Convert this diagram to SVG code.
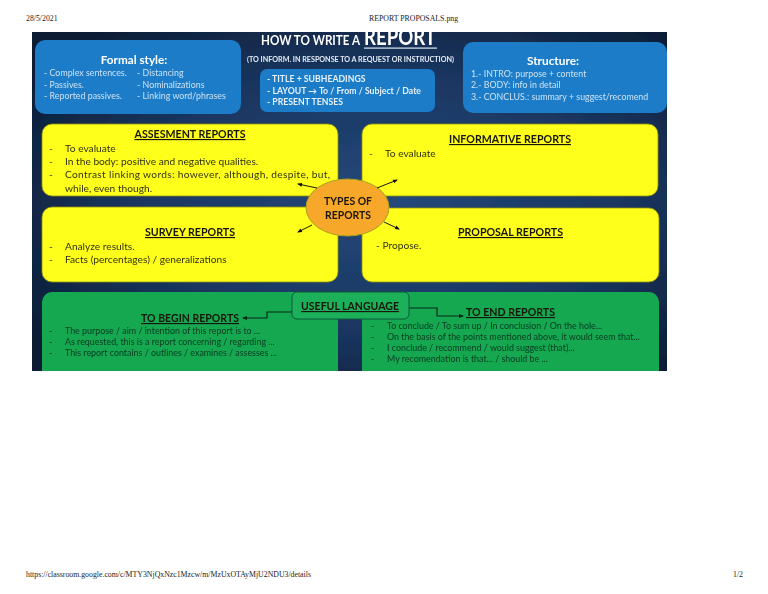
<svg xmlns="http://www.w3.org/2000/svg" width="768" height="594" viewBox="0 0 768 594">
<style>
text{font-family:Lato,"Open Sans",sans-serif}
text.pg{font-family:"Liberation Serif",serif;font-size:7.8px;fill:#222}
.blue{fill:#1a7cc8}
.yel{fill:#ffff1e;stroke:#8f8f10;stroke-width:.8}
.grn{fill:#14a851}
.hw{font-weight:700;fill:#fff}
.lb{font-size:8.8px;fill:#cfe2f3;letter-spacing:.02px}
.bd{font-size:8.7px;fill:#e6f0f9;font-weight:700}
.h{font-size:11.5px;font-weight:700;fill:#16160a;text-decoration:underline;text-anchor:middle}
.t{font-size:10.2px;fill:#33330f}
.g{font-size:8.9px;fill:#083a20}
.c{fill:none;stroke:#1a1a08;stroke-width:1}
.cw{fill:none;stroke:#06281a;stroke-width:1.2}
.o{font-size:11.5px;font-weight:700;fill:#1a1408;text-anchor:middle}
</style>
<defs>
<radialGradient id="bg" cx=".55" cy=".5" r=".7"><stop offset="0" stop-color="#24497b"/><stop offset=".55" stop-color="#1a3660"/><stop offset="1" stop-color="#0a1a30"/></radialGradient>
<clipPath id="img"><rect x="32" y="32" width="635" height="339"/></clipPath>
<filter id="soft" x="0" y="0" width="1" height="1"><feGaussianBlur stdDeviation=".35"/></filter>
<marker id="ah" markerWidth="5" markerHeight="5" refX="4" refY="2.5" orient="auto" markerUnits="userSpaceOnUse"><path d="M0 0.5L5 2.5L0 4.5z" fill="#111"/></marker>
<marker id="ag" markerWidth="5" markerHeight="5" refX="4" refY="2.5" orient="auto" markerUnits="userSpaceOnUse"><path d="M0 0.5L5 2.5L0 4.5z" fill="#06281a"/></marker>
</defs>
<rect width="768" height="594" fill="#fff"/>
<g id="page-header">
<text class="pg" x="26" y="21">28/5/2021</text>
<text class="pg" x="369" y="21">REPORT PROPOSALS.png</text>
<text class="pg" x="26" y="577">https://classroom.google.com/c/MTY3NjQxNzc1Mzcw/m/MzUxOTAyMjU2NDU3/details</text>
<text class="pg" x="733" y="577">1/2</text>
</g>
<g clip-path="url(#img)" filter="url(#soft)">
<rect x="32" y="32" width="635" height="339" fill="url(#bg)"/>
<g id="title">
<text class="hw" x="261" y="45" font-size="12.5" textLength="99" lengthAdjust="spacingAndGlyphs">HOW TO WRITE A</text>
<text class="hw" x="364" y="45" font-size="22" textLength="72" lengthAdjust="spacingAndGlyphs">REPORT</text>
<rect x="364" y="47.5" width="73" height="1.2" fill="#dce8f2"/>
<text x="247" y="62" font-size="7.2" font-weight="700" fill="#e4edf5" textLength="207">(TO INFORM. IN RESPONSE TO A REQUEST OR INSTRUCTION)</text>
</g>
<g id="formal-style">
<rect class="blue" x="35" y="40" width="206" height="74" rx="10"/>
<text class="hw" x="134" y="64" font-size="11.7" text-anchor="middle">Formal style:</text>
<text class="lb" x="44" y="76">- Complex sentences.</text>
<text class="lb" x="44" y="88">- Passives.</text>
<text class="lb" x="44" y="99">- Reported passives.</text>
<text class="lb" x="137" y="76">- Distancing</text>
<text class="lb" x="137" y="88">- Nominalizations</text>
<text class="lb" x="137" y="99">- Linking word/phrases</text>
</g>
<g id="layout">
<rect class="blue" x="260" y="69" width="175" height="43" rx="7"/>
<text class="bd" x="267" y="82">- TITLE + SUBHEADINGS</text>
<text class="bd" x="267" y="94" textLength="154">- LAYOUT → To / From / Subject / Date</text>
<text class="bd" x="267" y="105">- PRESENT TENSES</text>
</g>
<g id="structure">
<rect class="blue" x="463" y="42" width="204" height="71" rx="10"/>
<text class="hw" x="553" y="65" font-size="11.8" text-anchor="middle">Structure:</text>
<text class="lb" x="471" y="77">1.- INTRO: purpose + content</text>
<text class="lb" x="471" y="88">2.- BODY: info in detail</text>
<text class="lb" x="471" y="100">3.- CONCLUS.: summary + suggest/recomend</text>
</g>
<g id="assesment-reports">
<rect class="yel" x="42" y="124" width="296" height="72" rx="10"/>
<text class="h" x="190" y="138" textLength="111" lengthAdjust="spacingAndGlyphs">ASSESMENT REPORTS</text>
<text class="t" x="49" y="152">-</text><text class="t" x="65" y="152">To evaluate</text>
<text class="t" x="49" y="165">-</text><text class="t" x="65" y="165">In the body: positive and negative qualities.</text>
<text class="t" x="49" y="178">-</text><text class="t" x="65" y="178" textLength="265">Contrast linking words: however, although, despite, but,</text>
<text class="t" x="65" y="192">while, even though.</text>
</g>
<g id="informative-reports">
<rect class="yel" x="362" y="124" width="296" height="72" rx="10"/>
<text class="h" x="510" y="143" textLength="122" lengthAdjust="spacingAndGlyphs">INFORMATIVE REPORTS</text>
<text class="t" x="369" y="157">-</text><text class="t" x="385" y="157">To evaluate</text>
</g>
<g id="survey-reports">
<rect class="yel" x="42" y="207" width="296" height="75" rx="10"/>
<text class="h" x="190" y="236" textLength="90" lengthAdjust="spacingAndGlyphs">SURVEY REPORTS</text>
<text class="t" x="49" y="250">-</text><text class="t" x="65" y="250">Analyze results.</text>
<text class="t" x="49" y="263">-</text><text class="t" x="65" y="263">Facts (percentages) / generalizations</text>
</g>
<g id="proposal-reports">
<rect class="yel" x="362" y="208" width="297" height="74" rx="10"/>
<text class="h" x="510.5" y="236" textLength="105" lengthAdjust="spacingAndGlyphs">PROPOSAL REPORTS</text>
<text class="t" x="376" y="249">- Propose.</text>
</g>
<g id="begin-reports">
<rect class="grn" x="42" y="292" width="296" height="90" rx="10"/>
<text class="h" x="190" y="322" textLength="98" lengthAdjust="spacingAndGlyphs">TO BEGIN REPORTS</text>
<text class="g" x="49" y="334">-</text><text class="g" x="65" y="334">The purpose / aim / intention of this report is to ...</text>
<text class="g" x="49" y="345">-</text><text class="g" x="65" y="345">As requested, this is a report concerning / regarding ...</text>
<text class="g" x="49" y="356">-</text><text class="g" x="65" y="356">This report contains / outlines / examines / assesses ...</text>
</g>
<g id="end-reports">
<rect class="grn" x="362" y="292" width="297" height="90" rx="10"/>
<text class="h" x="510.5" y="316" textLength="89" lengthAdjust="spacingAndGlyphs">TO END REPORTS</text>
<text class="g" x="371" y="329">-</text><text class="g" x="387" y="329">To conclude / To sum up / In conclusion / On the hole...</text>
<text class="g" x="371" y="340">-</text><text class="g" x="387" y="340">On the basis of the points mentioned above, it would seem that...</text>
<text class="g" x="371" y="351">-</text><text class="g" x="387" y="351">I conclude / recommend / would suggest (that)...</text>
<text class="g" x="371" y="362">-</text><text class="g" x="387" y="362">My recomendation is that... / should be ...</text>
</g>
<g id="useful-language">
<rect x="292" y="292" width="117" height="27" rx="5" fill="#1cb05a" stroke="#0c5a35" stroke-width="1"/>
<text class="h" x="350" y="310" textLength="98" lengthAdjust="spacingAndGlyphs">USEFUL LANGUAGE</text>
</g>
<g id="types-of-reports">
<ellipse cx="347.5" cy="207.5" rx="41.5" ry="28.5" fill="#f7a82a" stroke="#a8a020" stroke-width="1"/>
<text class="o" x="348" y="205" textLength="48" lengthAdjust="spacingAndGlyphs">TYPES OF</text>
<text class="o" x="348" y="219" textLength="46" lengthAdjust="spacingAndGlyphs">REPORTS</text>
</g>
<g id="connectors">
<path class="c" marker-end="url(#ah)" d="M317 188L298 184"/>
<path class="c" marker-end="url(#ah)" d="M377 188L397 180"/>
<path class="c" marker-end="url(#ah)" d="M312 225L298 232"/>
<path class="c" marker-end="url(#ah)" d="M384 222L399 229"/>
<path class="cw" marker-end="url(#ag)" d="M292 312H267V318H243"/>
<path class="cw" marker-end="url(#ag)" d="M409 308H437V316H463"/>
</g>
</g>
</svg>
